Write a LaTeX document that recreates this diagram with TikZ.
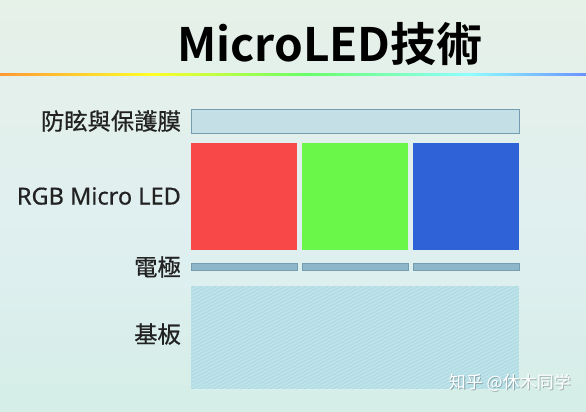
\documentclass[tikz,border=0pt]{standalone}
\usepackage{fontspec}
\setmainfont{Noto Sans CJK TC}[FakeBold=0.7]
\newfontfamily\titlefont{Noto Sans CJK TC Bold}
\newfontfamily\latinfont{Noto Sans}[FakeBold=0.5]
\newfontfamily\markfont{Noto Sans CJK SC}

\definecolor{bgtop}{RGB}{236,242,226}
\definecolor{bgmid}{RGB}{223,239,240}
\definecolor{bgbot}{RGB}{200,236,220}
\definecolor{labgray}{RGB}{34,34,34}
\definecolor{filmblue}{RGB}{196,223,230}
\definecolor{edgeblue}{RGB}{118,156,178}
\definecolor{padblue}{RGB}{142,182,202}
\definecolor{baseblue}{RGB}{178,221,228}
\definecolor{ledred}{RGB}{249,72,72}
\definecolor{ledgreen}{RGB}{107,247,74}
\definecolor{ledblue}{RGB}{46,98,214}

\pgfdeclareverticalshading{bgshade}{100bp}{color(0bp)=(bgbot); color(45bp)=(bgmid); color(100bp)=(bgtop)}
\pgfdeclarehorizontalshading{rainbow}{100bp}{color(0bp)=(bgtop); color(13bp)=(red!70); color(25bp)=(orange!80); color(38bp)=(yellow!85); color(51bp)=(green!60); color(65bp)=(cyan!45); color(80bp)=(blue!65); color(100bp)=(violet!80)}

\begin{document}
\begin{tikzpicture}
[x=1pt,y=-1pt,
lab/.style={anchor=east,inner sep=0pt,text=labgray,font=\fontsize{23.3}{26}\selectfont},
layer/.style={anchor=north west,inner sep=0pt,draw=edgeblue,line width=1.4pt},
chip/.style={anchor=north west,inner sep=0pt,minimum width=106pt,minimum height=107pt},
pad/.style={layer,fill=padblue,line width=1pt,minimum width=106pt,minimum height=7pt}]
\useasboundingbox (0,0) rectangle (586,412);
\fill[shading=bgshade] (0,0) rectangle (586,412); % background
\fill[shading=rainbow] (0,73) rectangle (586,75);

\node[anchor=base,font=\titlefont\fontsize{46}{50}\selectfont] (title) at (330,62) {MicroLED技術};

% layers
\node[layer,fill=filmblue,minimum width=328pt,minimum height=24pt] (film) at (191,109) {};
\node[chip,fill=ledred] (red) at (191,143) {};
\node[chip,fill=ledgreen] (green) at (302,143) {};
\node[chip,fill=ledblue] (blue) at (413,143) {};
\node[pad] (padr) at (191,263) {};
\node[pad] (padg) at (302,263) {};
\node[pad] (padb) at (413,263) {};
\node[anchor=north west,inner sep=0pt,fill=baseblue,minimum width=328pt,minimum height=103pt] (base) at (191,286) {};
\begin{scope}
\clip (base.north west) rectangle (base.south east);
\foreach \x in {-20,-13,...,520}
  \draw[white,opacity=0.28,line width=0.8pt] (\x,392) -- ++(214,-107);
\end{scope}

% labels
\node[lab] (filmlab) at (181,121) {防眩與保護膜};
\node[lab,font=\latinfont\fontsize{23.5}{26}\selectfont] (ledlab) at (181,196) {RGB Micro LED};
\node[lab] (padlab) at (181,267) {電極};
\node[lab] (baselab) at (181,334) {基板};

% watermark
\node[anchor=east,inner sep=0pt,text=black,opacity=0.25,font=\markfont\fontsize{17}{20}\selectfont] (markshadow) at (572,384) {知乎 @休木同学};
\node[anchor=east,inner sep=0pt,text=white,font=\markfont\fontsize{17}{20}\selectfont] (mark) at (571,383) {知乎 @休木同学};
\end{tikzpicture}
\end{document}
